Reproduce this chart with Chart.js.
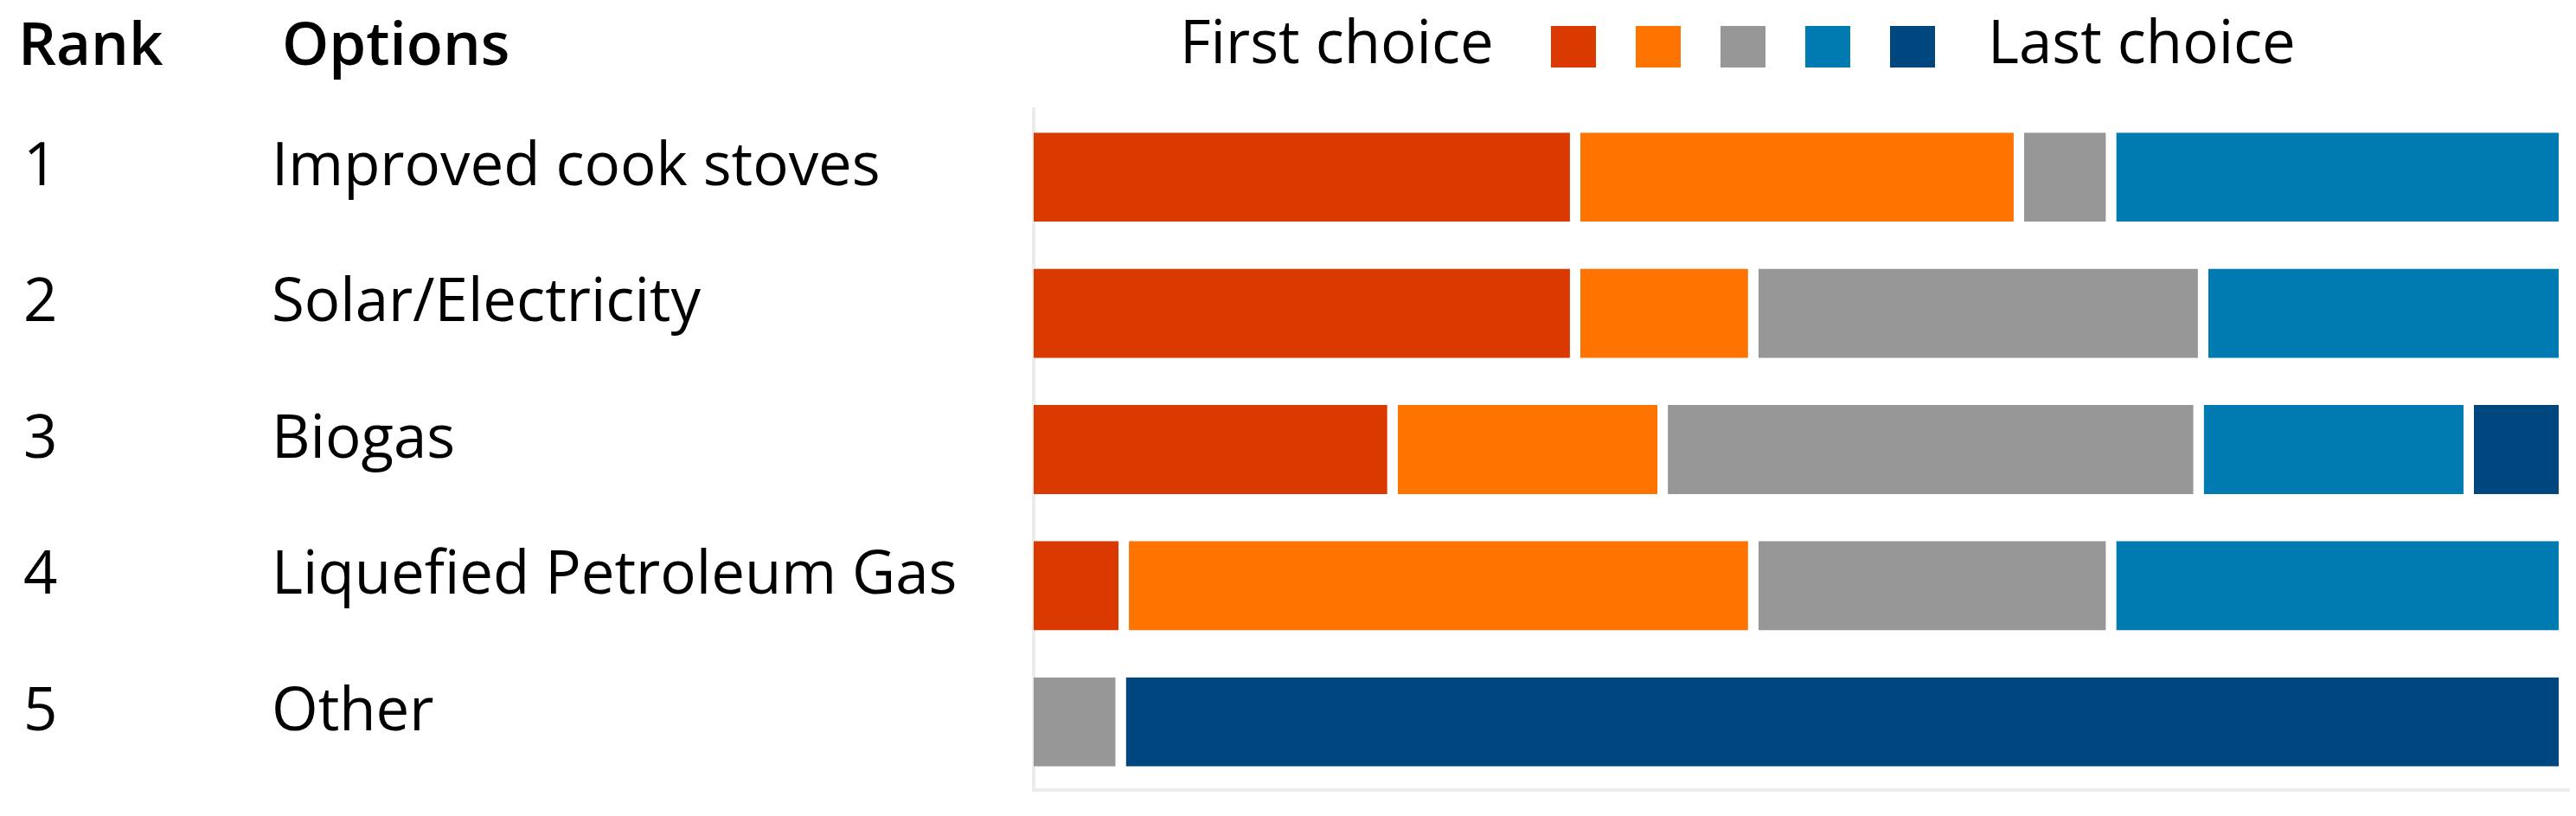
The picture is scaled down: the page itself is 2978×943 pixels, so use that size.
<!DOCTYPE html>
<html>
<head>
<meta charset="utf-8">
<style>
  html, body { margin: 0; padding: 0; background: #ffffff; }
  #wrap { width: 2978px; height: 943px; }
</style>
<script src="https://cdn.jsdelivr.net/npm/chart.js@4/dist/chart.umd.min.js"></script>
</head>
<body>
<div id="wrap"><canvas id="c" width="2978" height="943"></canvas></div>
<script>
// ---- data ----
const ranks = ['1', '2', '3', '4', '5'];
const options = ['Improved cook stoves', 'Solar/Electricity', 'Biogas', 'Liquefied Petroleum Gas', 'Other'];
const seriesNames = ['1st', '2nd', '3rd', '4th', '5th'];
const choice1 = [35.6, 35.6, 23.7, 6.2, 0];
const choice2 = [28.9, 11.6, 17.6, 41.0, 0];
const choice3 = [6.0, 29.3, 34.9, 23.3, 6.0];
const choice4 = [29.5, 23.5, 17.6, 29.5, 0];
const choice5 = [0, 0, 6.2, 0, 94.0];
const legendFirst = 'First choice';
const legendLast = 'Last choice';
const headerRank = 'Rank';
const headerOptions = 'Options';

// ---- style ----
const colors = ['#DA3A00', '#FF7300', '#979797', '#007BB2', '#00467F'];
const FONT = '"Open Sans", Lato, sans-serif';
const FS = 69;

const values = [choice1, choice2, choice3, choice4, choice5];
const datasets = values.map((v, i) => ({
  label: seriesNames[i],
  data: v,
  backgroundColor: colors[i],
  borderColor: '#ffffff',
  borderWidth: { left: 0, right: 12, top: 0, bottom: 0 },
  borderSkipped: 'start',
  barPercentage: 0.655,
  categoryPercentage: 1.0
}));

const headerLegend = {
  id: 'headerLegend',
  afterDraw(chart) {
    const ctx = chart.ctx;
    ctx.save();
    ctx.fillStyle = '#000';
    ctx.textBaseline = 'alphabetic';
    ctx.textAlign = 'left';
    ctx.font = '600 ' + FS + 'px ' + FONT;
    ctx.fillText(headerRank, 21, 75);
    ctx.fillText(headerOptions, 326, 75);
    ctx.font = FS + 'px ' + FONT;
    ctx.fillText(legendFirst, 1364, 73);
    ctx.fillText(legendLast, 2298, 73);
    chart.data.datasets.forEach((ds, i) => {
      ctx.fillStyle = ds.backgroundColor;
      ctx.fillRect(1793 + i * 98, 30, 52, 48);
    });
    ctx.restore();
  }
};

const tickStyle = {
  color: '#000',
  padding: 0,
  crossAlign: 'far',
  font: { family: FONT, size: FS, lineHeight: 0.3 }
};

new Chart(document.getElementById('c'), {
  type: 'bar',
  data: { labels: options, datasets },
  options: {
    indexAxis: 'y',
    responsive: false,
    maintainAspectRatio: false,
    devicePixelRatio: 1,
    animation: false,
    layout: { padding: { left: 27, right: 8, top: 126, bottom: 30 } },
    plugins: { legend: { display: false }, tooltip: { enabled: false }, title: { display: false } },
    scales: {
      x: {
        type: 'linear', stacked: true, min: 0, max: 100,
        ticks: { display: false },
        grid: { display: false, drawTicks: false },
        border: { display: true, color: '#ececec', width: 4 }
      },
      y: {
        type: 'category', stacked: true, position: 'left', weight: 0,
        grid: { display: false, drawTicks: false },
        border: { display: true, color: '#ececec', width: 4 },
        ticks: Object.assign({}, tickStyle, {
          callback(v) { return [this.getLabelForValue(v), '']; }
        }),
        afterFit(s) { s.width = 1195 - 314; }
      },
      rank: {
        type: 'category', labels: ranks, position: 'left', weight: 1, offset: true,
        grid: { display: false, drawTicks: false },
        border: { display: false },
        ticks: Object.assign({}, tickStyle, {
          callback(v) { return [this.getLabelForValue(v), '']; }
        }),
        afterFit(s) { s.width = 314 - 27; }
      }
    }
  },
  plugins: [headerLegend]
});
</script>
</body>
</html>
